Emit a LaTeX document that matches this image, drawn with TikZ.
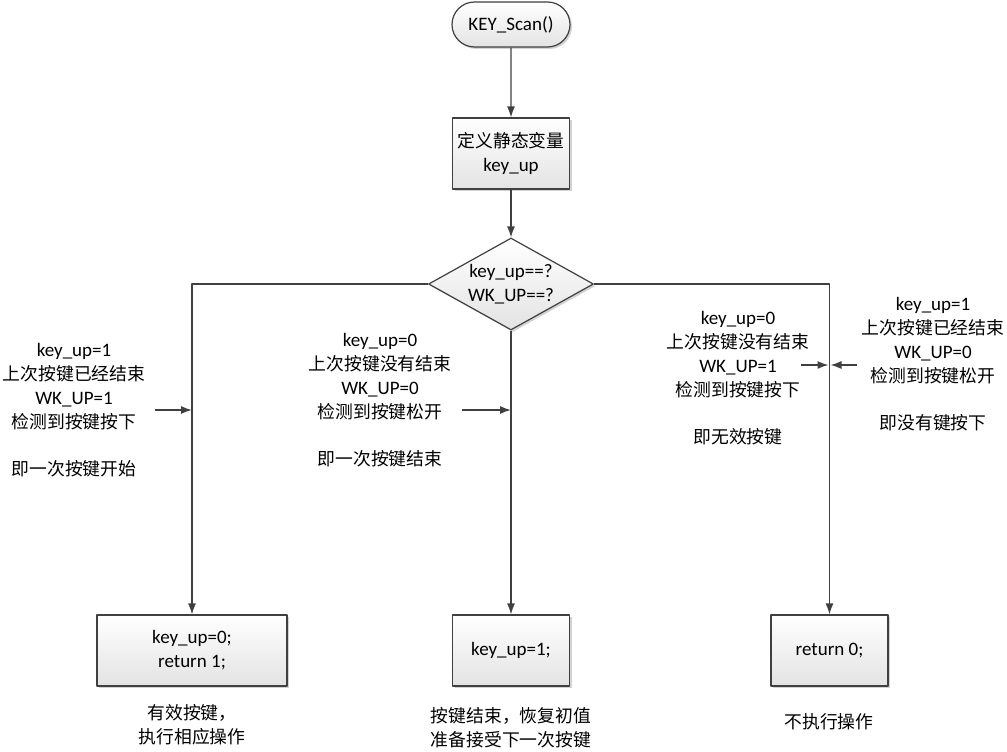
\documentclass[tikz,border=0pt]{standalone}
\usepackage{fontspec}
\setmainfont{Carlito}
\newfontfamily\cjk{Noto Sans CJK SC}
\usetikzlibrary{shapes.geometric,shapes.misc,shadows,arrows.meta}
\newcommand{\zh}[1]{{\fontsize{17.8}{24}\selectfont\cjk #1}}
\definecolor{linegray}{HTML}{404040}
\tikzset{
 flow/.style={draw=linegray, line width=1.2pt, top color=white, bottom color=black!11,
  drop shadow={shadow xshift=2pt, shadow yshift=-2pt, fill=black!35, opacity=.5}},
 procbox/.style={flow, rectangle, minimum width=117pt, minimum height=71pt, inner sep=0pt, align=center},
 startbox/.style={flow, rounded rectangle, minimum width=118pt, minimum height=45pt, inner sep=0pt},
 judge/.style={flow, diamond, aspect=1.8, minimum width=165pt, minimum height=92pt, inner sep=0pt, align=center},
 note/.style={align=center, inner sep=0pt},
 link/.style={draw=linegray, line width=1.3pt}
}
\begin{document}
\begin{tikzpicture}[x=1pt, y=-1pt, font=\fontsize{19}{24}\selectfont, line join=round, >={Latex[length=11pt,width=8pt]}]
 \useasboundingbox (0,0) rectangle (1007,752);
 % main flow
 \node[startbox] (start) at (511,24.5) {KEY\_Scan()};
 \node[procbox] (def) at (511,153.5) {\zh{定义静态变量}\\key\_up};
 \node[judge] (judge) at (511,284) {key\_up==?\\WK\_UP==?};
 \node[procbox, minimum width=190pt] (setL) at (192,650.5) {key\_up=0;\\return 1;};
 \node[procbox] (setM) at (511,650.5) {key\_up=1;};
 \node[procbox] (setR) at (829.5,650.5) {return 0;};
 \draw[link,->] (start) -- (def);
 \draw[link,->] (def) -- (judge);
 \draw[link,->] (judge.west) -| (setL.north);
 \draw[link,->] (judge.south) -- (setM.north);
 \draw[link,->] (judge.east) -| (setR.north);
 % conditions
 \node[note] (condL) at (74,410) {key\_up=1\\\zh{上次按键已经结束}\\WK\_UP=1\\\zh{检测到按键按下}\\[23pt]\zh{即一次按键开始}};
 \node[note] (condM) at (380,400) {key\_up=0\\\zh{上次按键没有结束}\\WK\_UP=0\\\zh{检测到按键松开}\\[23pt]\zh{即一次按键结束}};
 \node[note] (condRa) at (738,378) {key\_up=0\\\zh{上次按键没有结束}\\WK\_UP=1\\\zh{检测到按键按下}\\[23pt]\zh{即无效按键}};
 \node[note] (condRb) at (933,364) {key\_up=1\\\zh{上次按键已经结束}\\WK\_UP=0\\\zh{检测到按键松开}\\[23pt]\zh{即没有键按下}};
 \coordinate (inL) at (155,410);
 \coordinate (inM) at (462,410);
 \coordinate (inRa) at (801,365);
 \coordinate (inRb) at (857,365);
 \draw[link,->] (inL) -- (inL -| setL.north);
 \draw[link,->] (inM) -- (inM -| setM.north);
 \draw[link,->,shorten >=1pt] (inRa) -- (inRa -| setR.north);
 \draw[link,->,shorten >=1pt] (inRb) -- (inRb -| setR.north);
 % results
 \node[note] (noteL) at (192,725) {\zh{有效按键，}\\\zh{执行相应操作}};
 \node[note] (noteM) at (511,728) {\zh{按键结束，恢复初值}\\\zh{准备接受下一次按键}};
 \node[note] (noteR) at (829,722) {\zh{不执行操作}};
\end{tikzpicture}
\end{document}
